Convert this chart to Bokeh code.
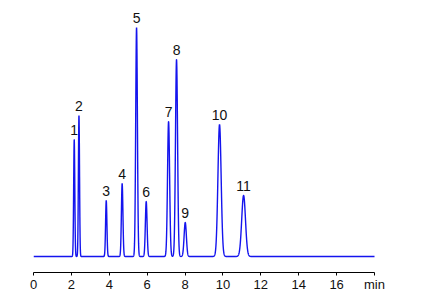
import numpy as np
from bokeh.plotting import figure
from bokeh.models import ColumnDataSource, FixedTicker
from bokeh.core.properties import value
from bokeh.embed import file_html
from bokeh.resources import INLINE

# Peak table
peak_labels = ["1", "2", "3", "4", "5", "6", "7", "8", "9", "10", "11"]
retention_min = [2.15, 2.40, 3.84, 4.68, 5.44, 5.95, 7.13, 7.55, 8.01, 9.82, 11.09]
peak_height = [117, 141, 56, 73, 229, 55, 135, 197, 34, 132, 61]
peak_sigma = [0.03, 0.03, 0.035, 0.04, 0.045, 0.045, 0.055, 0.055, 0.06, 0.085, 0.10]

x_ticks = [0, 2, 4, 6, 8, 10, 12, 14, 16, 18]
x_tick_labels = ["0", "2", "4", "6", "8", "10", "12", "14", "16", "min"]

# Trace built from the peak table
t = np.arange(0.0, 18.2, 0.004)
signal = np.zeros_like(t)
for rt, h, s in zip(retention_min, peak_height, peak_sigma):
    signal += h * np.exp(-0.5 * ((t - rt) / s) ** 2)

p = figure(width=428, height=301, x_range=(0, 18), y_range=(-16, 251),
           output_backend="svg", toolbar_location=None,
           y_axis_location=None, min_border_left=33, min_border_right=54,
           min_border_top=5, min_border_bottom=29)
p.outline_line_color = None
p.xgrid.visible = False
p.ygrid.visible = False
p.background_fill_color = "white"
p.border_fill_color = "white"

p.line(t, signal, line_color="#1414ee", line_width=1.4)

src = ColumnDataSource(dict(x=retention_min, y=peak_height, label=peak_labels))
p.text(x="x", y="y", text="label", source=src, text_align="center",
       text_baseline="middle", y_offset=-10,
       text_font=value("Liberation Sans"), text_font_size="14px",
       text_color="#111111")

ax = p.xaxis[0]
ax.ticker = FixedTicker(ticks=x_ticks)
ax.major_label_overrides = {k: v for k, v in zip(x_ticks, x_tick_labels)}
ax.minor_tick_line_color = None
ax.major_tick_in = 0
ax.major_tick_out = 3
ax.major_label_standoff = 1
ax.axis_line_color = "black"
ax.major_tick_line_color = "black"
ax.major_label_text_font = "Liberation Sans"
ax.major_label_text_font_size = "13px"
ax.major_label_text_color = "#111111"

open("out.html", "w").write(file_html(p, INLINE))
